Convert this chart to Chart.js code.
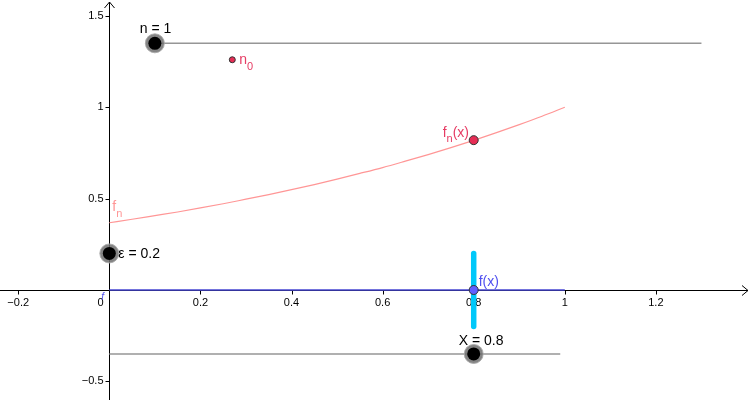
<!DOCTYPE html>
<html>
<head>
<meta charset="utf-8">
<script src="https://cdn.jsdelivr.net/npm/chart.js@4/dist/chart.umd.min.js"></script>
<style>
html,body{margin:0;padding:0;background:#fff;}
#wrap{width:750px;height:400px;}
</style>
</head>
<body>
<div id="wrap"><canvas id="c" width="750" height="400"></canvas></div>
<script>
// ---- data ----
const curveX = [0, 0.05, 0.1, 0.15, 0.2, 0.25, 0.3, 0.35, 0.4, 0.45, 0.5, 0.55, 0.6, 0.65, 0.7, 0.75, 0.8, 0.85, 0.9, 0.95, 1.0];
const curveY = [0.368, 0.387, 0.407, 0.427, 0.449, 0.472, 0.497, 0.522, 0.549, 0.577, 0.607, 0.638, 0.670, 0.705, 0.741, 0.779, 0.819, 0.861, 0.905, 0.951, 1.0];
const sliderNLineX = [0.1, 1.3];
const sliderNLineY = [1.35, 1.35];
const sliderXLineX = [0, 0.99];
const sliderXLineY = [-0.35, -0.35];
const fLineX = [0, 1];
const fLineY = [0, 0];
const epsBandX = [0.8, 0.8];
const epsBandY = [-0.2, 0.2];
const sliderDotsX = [0.1, 0, 0.8];
const sliderDotsY = [1.35, 0.2, -0.35];
const n0X = [0.27];
const n0Y = [1.26];
const fnPointX = [0.8];
const fnPointY = [0.82];
const fPointX = [0.8];
const fPointY = [0];
const xTickValues = [-0.2, 0.2, 0.4, 0.6, 0.8, 1, 1.2];
const xTickLabels = ["\u22120.2", "0.2", "0.4", "0.6", "0.8", "1", "1.2"];
const yTickValues = [1.5, 1, 0.5, -0.5];
const yTickLabels = ["1.5", "1", "0.5", "\u22120.5"];

const zip = (xs, ys) => xs.map((x, i) => ({x: x, y: ys[i]}));

const FONT = '"Liberation Sans", Arial, sans-serif';

const axesPlugin = {
  id: 'ggbAxes',
  beforeDatasetsDraw(chart) {
    const ctx = chart.ctx;
    const xs = chart.scales.x, ys = chart.scales.y;
    const x0 = Math.round(xs.getPixelForValue(0)) + 0.5;
    const y0 = Math.round(ys.getPixelForValue(0)) + 0.5;
    ctx.save();
    ctx.strokeStyle = '#000';
    ctx.lineWidth = 1;
    ctx.beginPath();
    ctx.moveTo(0, y0); ctx.lineTo(748, y0);
    ctx.moveTo(x0, 400); ctx.lineTo(x0, 2);
    // arrows
    ctx.moveTo(742, y0 - 5); ctx.lineTo(748, y0); ctx.lineTo(742, y0 + 5);
    ctx.moveTo(x0 - 5, 8); ctx.lineTo(x0, 2); ctx.lineTo(x0 + 5, 8);
    // ticks
    xTickValues.forEach(v => {
      const p = Math.round(xs.getPixelForValue(v)) + 0.5;
      ctx.moveTo(p, y0); ctx.lineTo(p, y0 + 4);
    });
    yTickValues.forEach(v => {
      const p = Math.round(ys.getPixelForValue(v)) + 0.5;
      ctx.moveTo(x0, p); ctx.lineTo(x0 - 4, p);
    });
    ctx.stroke();
    ctx.fillStyle = '#000';
    ctx.font = '11px ' + FONT;
    ctx.textAlign = 'center';
    ctx.textBaseline = 'top';
    xTickValues.forEach((v, i) => {
      ctx.fillText(xTickLabels[i], xs.getPixelForValue(v), y0 + 7);
    });
    ctx.fillText('0', x0 - 9, y0 + 7);
    ctx.textAlign = 'right';
    ctx.textBaseline = 'middle';
    yTickValues.forEach((v, i) => {
      ctx.fillText(yTickLabels[i], x0 - 6, ys.getPixelForValue(v));
    });
    ctx.restore();
  },
  afterDatasetsDraw(chart) {
    const ctx = chart.ctx;
    const xs = chart.scales.x, ys = chart.scales.y;
    const px = v => xs.getPixelForValue(v), py = v => ys.getPixelForValue(v);
    ctx.save();
    ctx.textBaseline = 'alphabetic';
    ctx.textAlign = 'left';
    // slider labels
    ctx.fillStyle = '#000';
    ctx.font = '14px ' + FONT;
    ctx.fillText('n = 1', px(sliderDotsX[0]) - 15, py(sliderDotsY[0]) - 10);
    ctx.fillText('\u03b5 = 0.2', px(sliderDotsX[1]) + 9, py(sliderDotsY[1]) + 5);
    ctx.fillText('X = 0.8', px(sliderDotsX[2]) - 15, py(sliderDotsY[2]) - 9);
    // n0 label
    ctx.fillStyle = 'rgb(230,60,100)';
    ctx.font = '14px ' + FONT;
    let lx = px(n0X[0]) + 7, ly = py(n0Y[0]) + 4;
    ctx.fillText('n', lx, ly);
    let w = ctx.measureText('n').width;
    ctx.font = '11px ' + FONT;
    ctx.fillText('0', lx + w, ly + 6);
    // fn(x) label
    ctx.font = '14px ' + FONT;
    lx = px(fnPointX[0]) - 31; ly = py(fnPointY[0]) - 3;
    ctx.fillText('f', lx, ly);
    w = ctx.measureText('f').width;
    ctx.font = '11px ' + FONT;
    ctx.fillText('n', lx + w, ly + 5);
    const w2 = ctx.measureText('n').width;
    ctx.font = '14px ' + FONT;
    ctx.fillText('(x)', lx + w + w2, ly);
    // fn curve label
    ctx.fillStyle = 'rgb(255,150,150)';
    lx = px(0) + 3; ly = py(0.46) + 5;
    ctx.font = '14px ' + FONT;
    ctx.fillText('f', lx, ly);
    w = ctx.measureText('f').width;
    ctx.font = '11px ' + FONT;
    ctx.fillText('n', lx + w, ly + 6);
    // f(x) label
    ctx.fillStyle = 'rgb(80,80,240)';
    ctx.font = '14px ' + FONT;
    ctx.fillText('f(x)', px(fPointX[0]) + 5, py(fPointY[0]) - 4);
    // f label near origin
    ctx.font = 'italic 10px ' + FONT;
    ctx.fillText('f', px(0) - 8, py(0) + 10);
    ctx.restore();
  }
};

new Chart(document.getElementById('c'), {
  type: 'scatter',
  data: {
    datasets: [
      {data: zip(fPointX, fPointY), pointRadius: 4.5, pointBackgroundColor: 'rgb(95,95,255)', pointBorderColor: '#333', pointBorderWidth: 1},
      {data: zip(fnPointX, fnPointY), pointRadius: 4.5, pointBackgroundColor: 'rgb(230,45,85)', pointBorderColor: '#333', pointBorderWidth: 1},
      {data: zip(n0X, n0Y), pointRadius: 3, pointBackgroundColor: 'rgb(230,45,85)', pointBorderColor: '#333', pointBorderWidth: 1},
      {data: zip(sliderDotsX, sliderDotsY), pointRadius: 6.5, pointBackgroundColor: '#000', pointBorderColor: '#000', pointBorderWidth: 0},
      {data: zip(sliderDotsX, sliderDotsY), pointRadius: 9.5, pointBackgroundColor: 'rgba(110,110,110,0.85)', pointBorderColor: 'rgba(170,170,170,0.9)', pointBorderWidth: 1},
      {data: zip(epsBandX, epsBandY), showLine: true, borderColor: 'rgb(0,200,250)', borderWidth: 5.5, borderCapStyle: 'round', pointRadius: 0},
      {data: zip(fLineX, fLineY), showLine: true, borderColor: 'rgb(70,70,210)', borderWidth: 1.5, pointRadius: 0},
      {data: zip(curveX, curveY), showLine: true, borderColor: 'rgb(255,150,150)', borderWidth: 1.2, pointRadius: 0, cubicInterpolationMode: 'monotone'},
      {data: zip(sliderNLineX, sliderNLineY), showLine: true, borderColor: 'rgb(150,150,150)', borderWidth: 1.5, pointRadius: 0},
      {data: zip(sliderXLineX, sliderXLineY), showLine: true, borderColor: 'rgb(150,150,150)', borderWidth: 1.5, pointRadius: 0}
    ]
  },
  options: {
    responsive: false,
    animation: false,
    devicePixelRatio: 1,
    layout: {padding: 0, autoPadding: false},
    plugins: {legend: {display: false}, tooltip: {enabled: false}},
    scales: {
      x: {type: 'linear', display: false, min: -0.2400, max: 1.4066},
      y: {type: 'linear', display: false, min: -0.602, max: 1.587}
    }
  },
  plugins: [axesPlugin]
});
</script>
</body>
</html>
